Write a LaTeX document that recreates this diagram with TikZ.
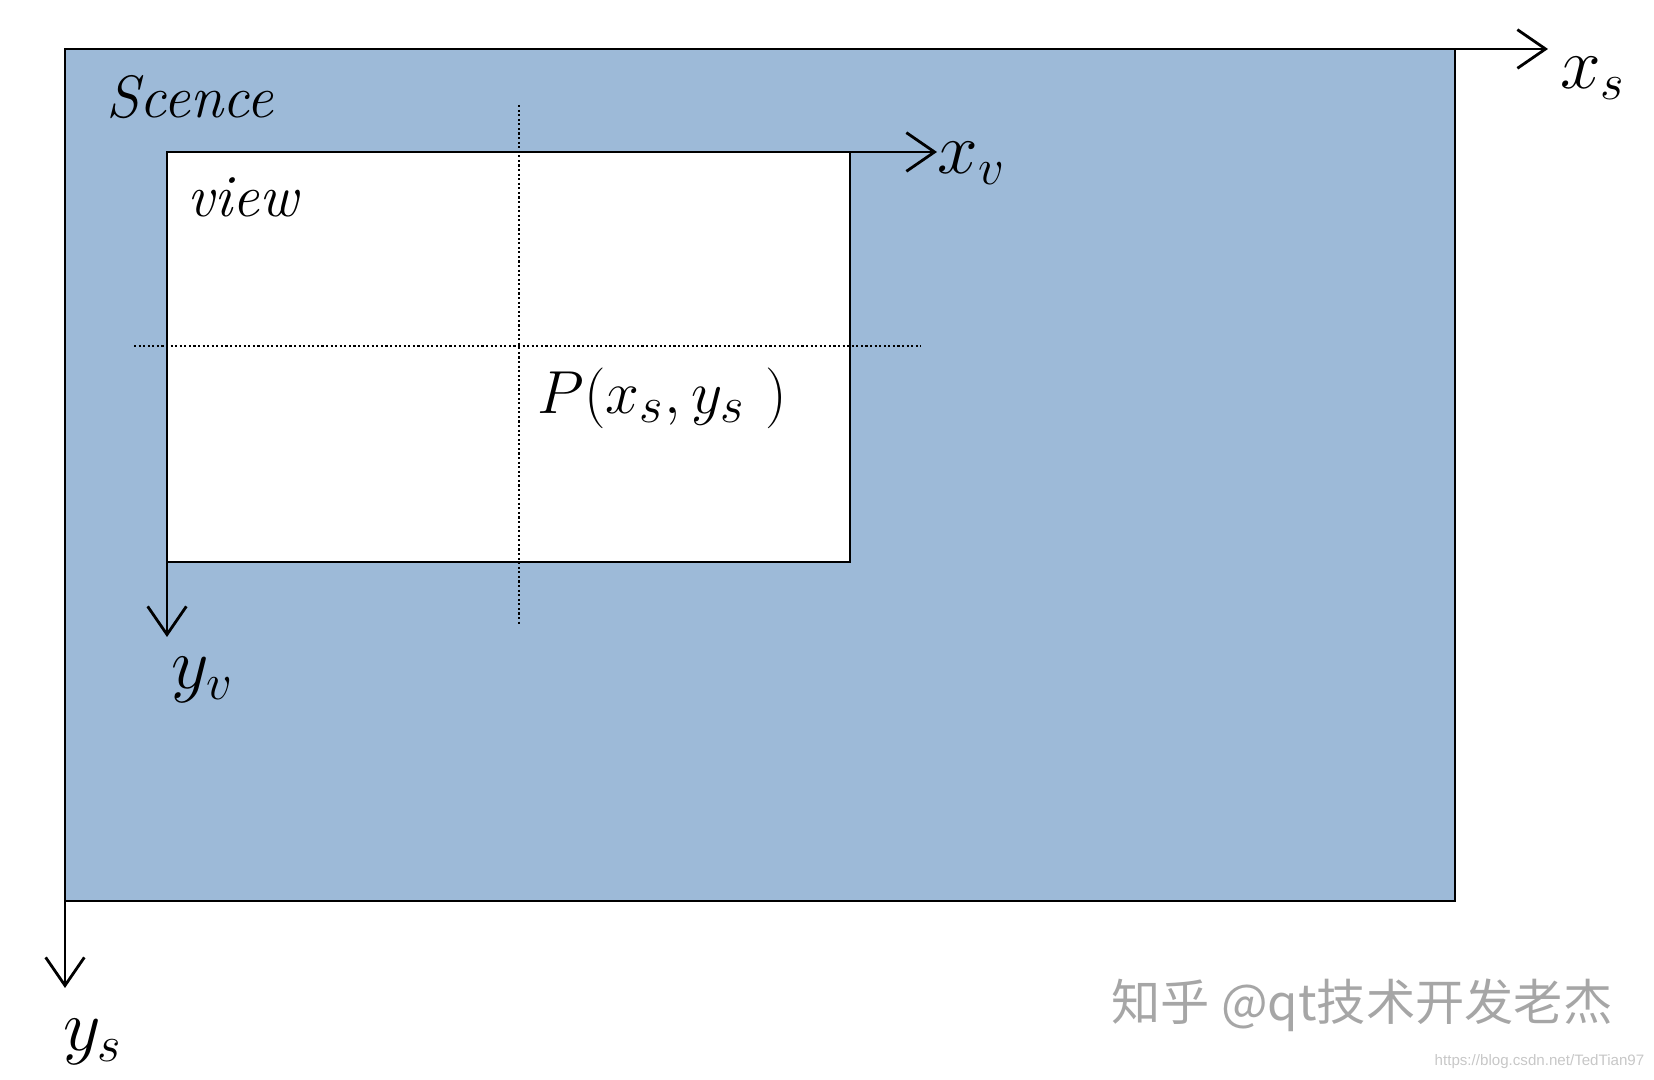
\documentclass[tikz,border=0pt]{standalone}
\usepackage{fontspec}
\newfontfamily\cjkfont{Noto Sans CJK SC}
\newfontfamily\urlfont{Liberation Sans}
\usetikzlibrary{arrows.meta}
\definecolor{scenefill}{RGB}{157,186,216}

\begin{document}
\begin{tikzpicture}[x=0.01cm,y=-0.01cm,
  frame/.style={line width=0.8pt},
  axis/.style={line width=0.7pt,-{Straight Barb[length=8pt,width=11pt,line width=0.8pt]}},
  guide/.style={line width=0.6pt,dash pattern=on 0.6pt off 0.7pt},
  hand/.style={font=\fontsize{17}{20}\selectfont\itshape},
  axlabel/.style={font=\fontsize{20}{24}\selectfont}]
  \useasboundingbox (0,0) rectangle (1654,1080);
  % scene and view rectangles
  \draw[frame,fill=scenefill] (65,49) rectangle (1455,901);
  \draw[frame,fill=white] (167,152) rectangle (850,562);
  \draw[guide] (519,105) -- (519,625);
  \draw[guide] (134,346) -- (921,346);
  % axes
  \coordinate (so) at (65,49);
  \coordinate (vo) at (167,152);
  \draw[axis] (1455,49) -- (1548,49);
  \draw[axis] (so |- 0,901) -- (65,988);
  \draw[axis] (850,152) -- (937,152);
  \draw[axis] (vo |- 0,562) -- (167,637);
  \node[axlabel] (xs) at (1593,78) {$x_s$};
  \node[axlabel] (ys) at (93,1042) {$y_s$};
  \node[axlabel] (xv) at (972,163) {$x_v$};
  \node[axlabel] (yv) at (203,680) {$y_v$};
  \node[hand] (scene) at (190,97) {Scence};
  \node[hand] (view) at (243,197) {view};
  \node[font=\fontsize{19}{23}\selectfont,anchor=west] (pt) at (525,398) {$P(x_s,y_s\ )$};
  % watermark
  \node[font=\cjkfont\fontsize{14}{16}\selectfont,text=black!35] (wm) at (1362,1005) {知乎 @qt技术开发老杰};
  \node[font=\urlfont\fontsize{4.3}{5}\selectfont,text=black!22,anchor=east,inner sep=0pt] (url) at (1645,1062) {https://blog.csdn.net/TedTian97};
\end{tikzpicture}
\end{document}
